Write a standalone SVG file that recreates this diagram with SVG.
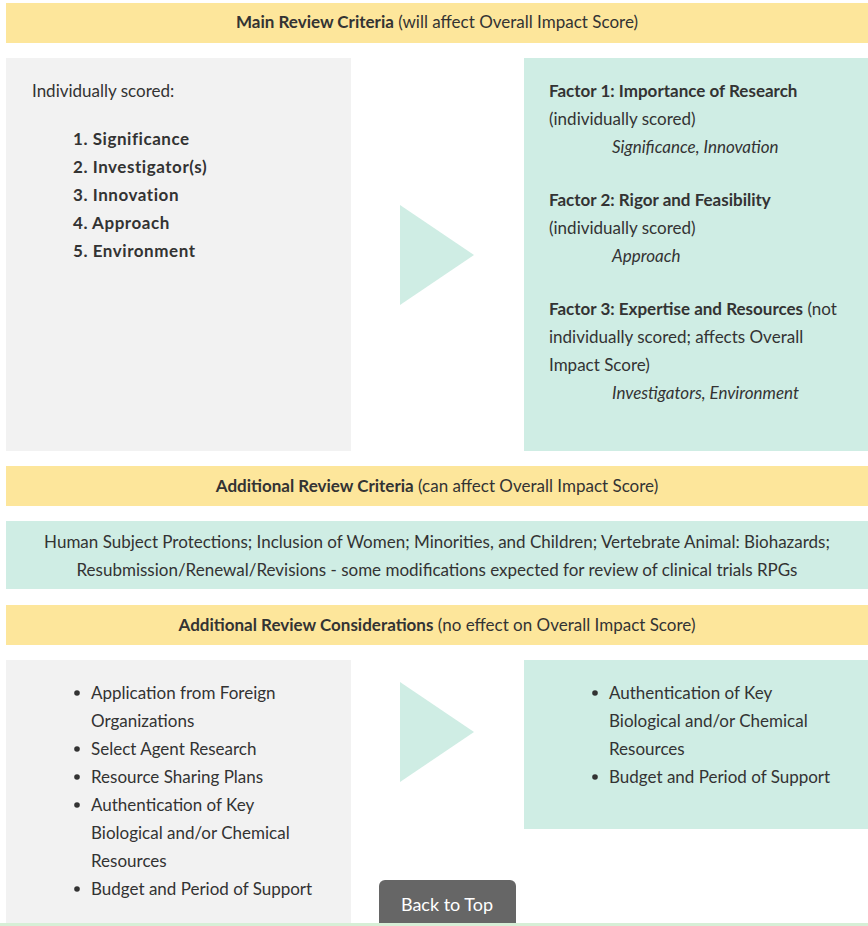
<svg xmlns="http://www.w3.org/2000/svg" width="868" height="926" viewBox="0 0 868 926">
<style>
.band{fill:#fde69b}
.grey{fill:#f2f2f2}
.green{fill:#cfede4}
.arrow{fill:#cfede4}
text{font-family:Lato,"Source Sans Pro","Liberation Sans",sans-serif;font-size:17px;fill:#333}
.b{font-weight:bold}
.li{font-weight:bold;letter-spacing:0.55px}
.i{font-style:italic}
.c{text-anchor:middle}
.btn{fill:#666}
.btntxt{fill:#fff;font-size:18px;text-anchor:middle}
</style>
<rect width="868" height="926" fill="#fff"/>
<g id="main-criteria-header">
<rect class="band" x="6" y="3" width="862" height="40"/>
<text class="c" x="437" y="28"><tspan class="b">Main Review Criteria</tspan> (will affect Overall Impact Score)</text>
</g>
<g id="individually-scored">
<rect class="grey" x="6" y="58" width="345" height="393"/>
<text x="32" y="97">Individually scored:</text>
<text class="li" x="73" y="145">1. Significance</text>
<text class="li" x="73" y="173">2. Investigator(s)</text>
<text class="li" x="73" y="201">3. Innovation</text>
<text class="li" x="73" y="229">4. Approach</text>
<text class="li" x="73" y="257">5. Environment</text>
</g>
<g id="factors">
<rect class="green" x="524" y="58" width="344" height="393"/>
<text class="b" x="549" y="97">Factor 1: Importance of Research</text>
<text x="549" y="125">(individually scored)</text>
<text class="i" x="612" y="153">Significance, Innovation</text>
<text class="b" x="549" y="206">Factor 2: Rigor and Feasibility</text>
<text x="549" y="234">(individually scored)</text>
<text class="i" x="612" y="262">Approach</text>
<text x="549" y="315"><tspan class="b">Factor 3: Expertise and Resources</tspan> (not</text>
<text x="549" y="343">individually scored; affects Overall</text>
<text x="549" y="371">Impact Score)</text>
<text class="i" x="612" y="399">Investigators, Environment</text>
</g>
<g id="additional-criteria-header">
<rect class="band" x="6" y="466" width="862" height="40"/>
<text class="c" x="437" y="492"><tspan class="b">Additional Review Criteria</tspan> (can affect Overall Impact Score)</text>
</g>
<g id="additional-criteria">
<rect class="green" x="6" y="521" width="862" height="68"/>
<text class="c" x="437" y="548">Human Subject Protections; Inclusion of Women; Minorities, and Children; Vertebrate Animal: Biohazards;</text>
<text class="c" x="437" y="576">Resubmission/Renewal/Revisions - some modifications expected for review of clinical trials RPGs</text>
</g>
<g id="additional-considerations-header">
<rect class="band" x="6" y="605" width="862" height="40"/>
<text class="c" x="437" y="631"><tspan class="b">Additional Review Considerations</tspan> (no effect on Overall Impact Score)</text>
</g>
<g id="considerations-list">
<rect class="grey" x="6" y="660" width="345" height="266"/>
<circle cx="77" cy="693" r="2.8" fill="#333"/>
<text x="91" y="699">Application from Foreign</text>
<text x="91" y="727">Organizations</text>
<circle cx="77" cy="749" r="2.8" fill="#333"/>
<text x="91" y="755">Select Agent Research</text>
<circle cx="77" cy="777" r="2.8" fill="#333"/>
<text x="91" y="783">Resource Sharing Plans</text>
<circle cx="77" cy="805" r="2.8" fill="#333"/>
<text x="91" y="811">Authentication of Key</text>
<text x="91" y="839">Biological and/or Chemical</text>
<text x="91" y="867">Resources</text>
<circle cx="77" cy="889" r="2.8" fill="#333"/>
<text x="91" y="895">Budget and Period of Support</text>
</g>
<g id="considerations-result">
<rect class="green" x="524" y="660" width="344" height="169"/>
<circle cx="595" cy="693" r="2.8" fill="#333"/>
<text x="609" y="699">Authentication of Key</text>
<text x="609" y="727">Biological and/or Chemical</text>
<text x="609" y="755">Resources</text>
<circle cx="595" cy="777" r="2.8" fill="#333"/>
<text x="609" y="783">Budget and Period of Support</text>
</g>
<g id="connectors">
<polygon class="arrow" points="400,205 474,255 400,305"/>
<polygon class="arrow" points="400,682 474,732 400,782"/>
</g>
<g id="back-to-top">
<path class="btn" d="M379,926 V886 a6,6 0 0 1 6,-6 H510 a6,6 0 0 1 6,6 V926 Z"/>
<text class="btntxt" x="447" y="911">Back to Top</text>
</g>
<rect x="0" y="923" width="868" height="3" fill="#d6efd6"/>
</svg>
